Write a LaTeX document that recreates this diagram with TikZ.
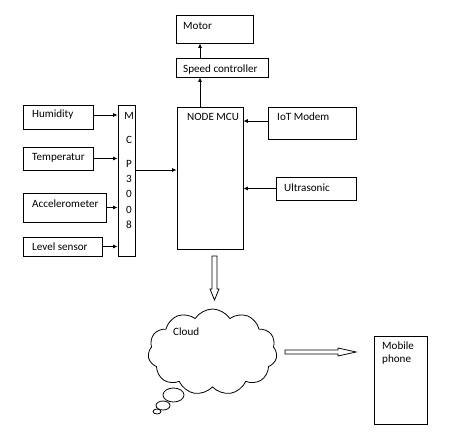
\documentclass[tikz,border=0pt]{standalone}
\usepackage{fontspec}
\setmainfont{Carlito}
\usetikzlibrary{shapes.symbols,arrows.meta}
\begin{document}
\begin{tikzpicture}[x=1pt,y=-1pt,
  box/.style={draw,line width=0.8pt,inner sep=0pt,rectangle},
  txt/.style={inner sep=0pt,anchor=west,font=\fontsize{11.1}{13}\selectfont},
  arr/.style={line width=0.8pt,-{Latex[length=4.5pt,width=4pt]}},
  blk/.style={draw,line width=0.8pt,fill=white,line join=miter}]
\useasboundingbox[fill=white] (0,0) rectangle (474,442);
% sensors
\node[box,minimum width=70,minimum height=24] (hum) at (58,117) {};
\node[txt] (humt) at (32,115) {Humidity};
\node[box,minimum width=70,minimum height=23] (temp) at (58,158.5) {};
\node[txt] (tempt) at (32,158) {Temperatur};
\node[box,minimum width=83,minimum height=29] (acc) at (64.5,207.5) {};
\node[txt] (acct) at (32,204) {Accelerometer};
\node[box,minimum width=79,minimum height=19] (lvl) at (62.5,246.5) {};
\node[txt] (lvlt) at (32,247) {Level sensor};
% MCP3008
\node[box,minimum width=17,minimum height=151] (mcp) at (126.5,180.5) {};
\foreach \l/\yy [count=\i] in {M/116,C/140,P/164,3/179,0/194,0/210,8/225}
  \node[txt,anchor=center] (mcp\i) at (129,\yy) {\l};
% NodeMCU
\node[box,minimum width=66,minimum height=142] (node) at (210,178) {};
\node[txt] (nodet) at (187,117) {NODE MCU};
\node[box,minimum width=88,minimum height=32] (iot) at (312,123) {};
\node[txt] (iott) at (277,117) {IoT Modem};
\node[box,minimum width=80,minimum height=23] (ultra) at (316,188.5) {};
\node[txt] (ultrat) at (284,188) {Ultrasonic};
\node[box,minimum width=77,minimum height=28] (motor) at (214.5,29) {};
\node[txt] (motort) at (183,26) {Motor};
\node[box,minimum width=92,minimum height=19] (speed) at (222,67.5) {};
\node[txt] (speedt) at (183,70) {Speed controller};
% phone
\node[box,minimum width=53,minimum height=88] (phone) at (400.5,380) {};
\node[txt] (phonet1) at (382,346) {Mobile};
\node[txt] (phonet2) at (382,360) {phone};
% cloud
\node[cloud,draw,line width=0.8pt,cloud puffs=11,cloud puff arc=115,aspect=1.5,
      minimum width=129,minimum height=86,inner sep=0pt] (cloud) at (212.5,352) {};
\node[txt] (cloudt) at (173,332) {Cloud};
\draw[line width=0.8pt,fill=white] (173.5,395) ellipse [x radius=10.5,y radius=7];
\draw[line width=0.8pt,fill=white] (163,405.5) ellipse [x radius=7,y radius=4.5];
\draw[line width=0.8pt,fill=white] (157,411.5) ellipse [x radius=4,y radius=2.5];
% connectors
\draw[arr] ([yshift=2pt]hum.east) -- ([yshift=2pt]hum.east -| mcp.west);
\draw[arr] (temp.east) -- (temp.east -| mcp.west);
\draw[arr] (acc.east) -- (acc.east -| mcp.west);
\draw[arr] (lvl.east) -- (lvl.east -| mcp.west);
\draw[arr] ([yshift=10.5pt]mcp.east) -- ([yshift=10.5pt]mcp.east -| node.west);
\draw[arr] ([yshift=2pt]iot.west) -- ([yshift=2pt]iot.west -| node.east);
\draw[arr] (ultra.west) -- (ultra.west -| node.east);
\draw[arr] ([xshift=-10pt]node.north) -- ([xshift=-10pt]node.north |- speed.south);
\draw[arr] ([xshift=-22pt]speed.north) -- ([xshift=-22pt]speed.north |- motor.south);
% block arrows
\draw[blk] (212,256) -- (217,256) -- (217,289) -- (219,289) -- (214.5,300)
  -- (210,289) -- (212,289) -- cycle;
\draw[blk] (285,350) -- (338,350) -- (338,348) -- (356,352) -- (338,356)
  -- (338,354) -- (285,354) -- cycle;
\end{tikzpicture}
\end{document}
